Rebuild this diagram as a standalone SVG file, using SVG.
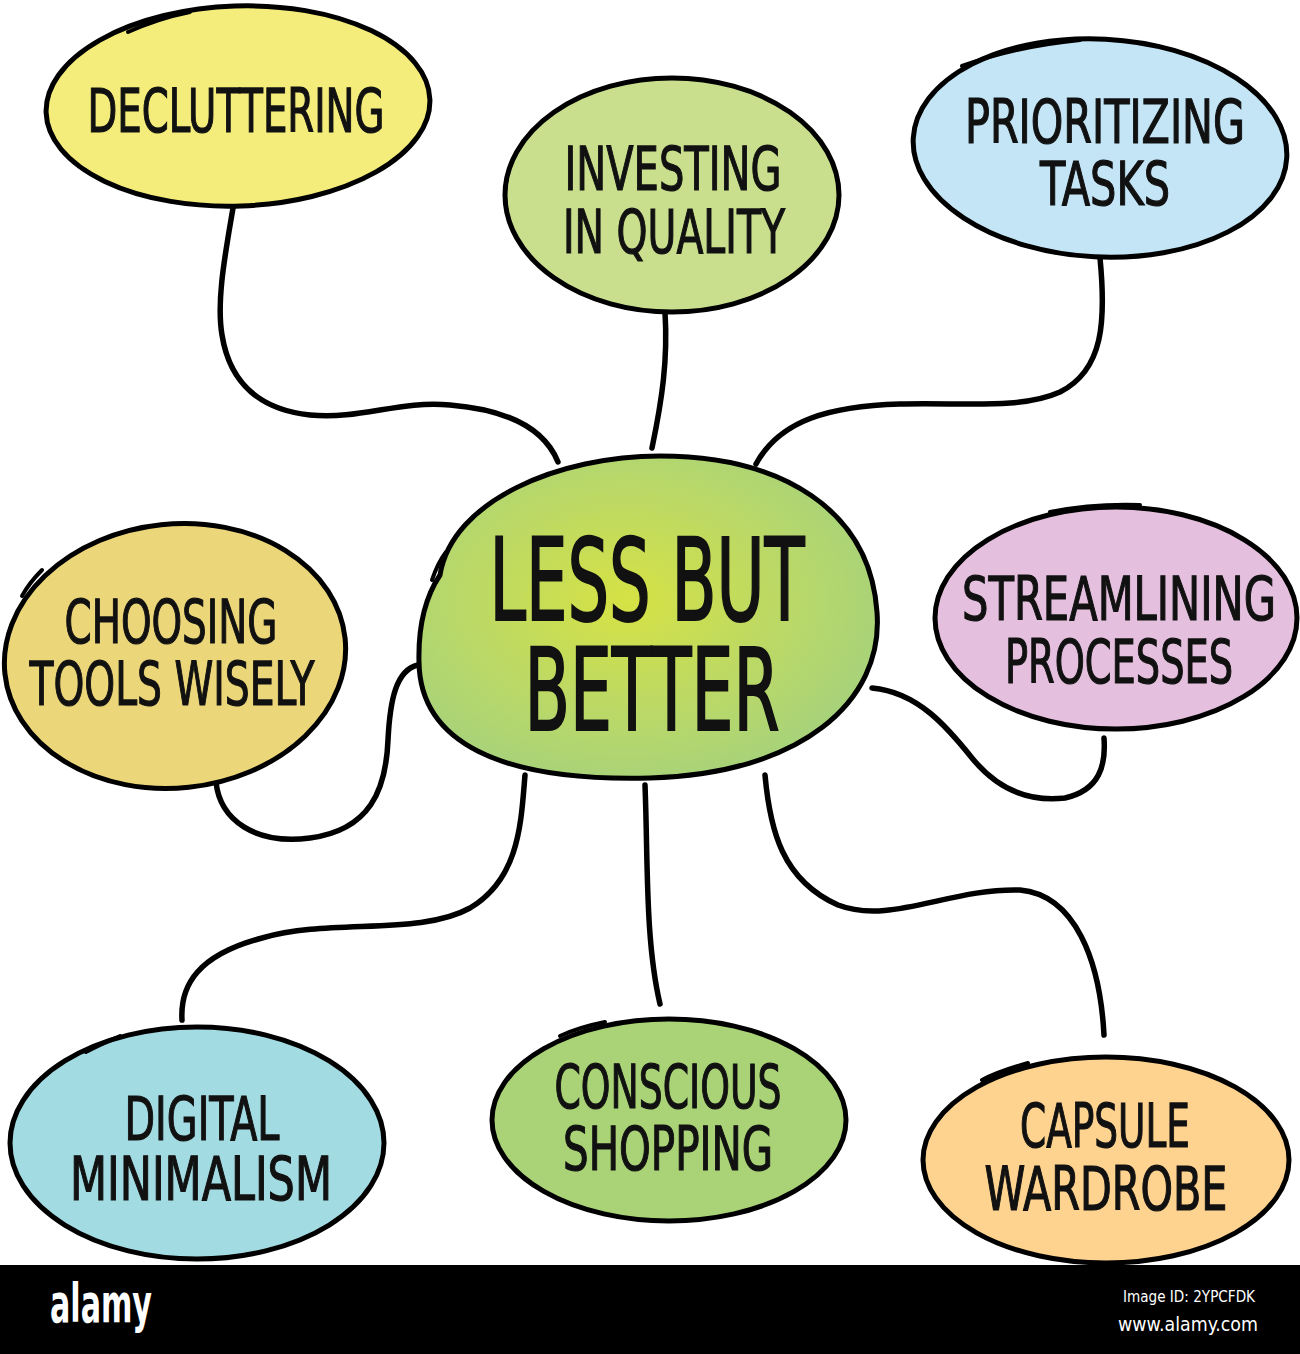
<svg xmlns="http://www.w3.org/2000/svg" width="1300" height="1354" viewBox="0 0 1300 1354">
<defs>
<radialGradient id="cg" cx="0.45" cy="0.45" r="0.6">
<stop offset="0" stop-color="#d6e244"/>
<stop offset="0.55" stop-color="#bcd965"/>
<stop offset="1" stop-color="#a6d27c"/>
</radialGradient>
<style>
.c{fill:none;stroke:#000;stroke-width:5.5;stroke-linecap:round;stroke-linejoin:round}
.o{stroke:#000;stroke-width:5}
.tk{fill:none;stroke:#000;stroke-width:4;stroke-linecap:round}
.t{font-family:"DejaVu Sans Condensed","Liberation Sans Narrow","DejaVu Sans",sans-serif;font-stretch:condensed;font-size:60px;fill:#111;stroke:#111;stroke-width:1.2;text-anchor:middle}
.big{font-size:114px;stroke-width:2}
.w{fill:#fff;font-family:"DejaVu Sans Condensed","DejaVu Sans",sans-serif;font-stretch:condensed}
</style>
</defs>
<rect width="1300" height="1354" fill="#fff"/>
<g id="connectors">
<path class="c" d="M233,208 C226,250 216,300 222,335 C230,385 262,410 310,415 C360,420 400,400 450,405 C510,410 545,430 558,462"/>
<path class="c" d="M665,312 C668,360 662,400 652,448"/>
<path class="c" d="M1100,258 C1106,320 1104,370 1060,392 C1020,410 960,402 900,404 C830,406 780,420 756,464"/>
<path class="c" d="M418,665 C396,670 390,700 388,740 C386,790 370,830 310,838 C255,845 220,820 216,782"/>
<path class="c" d="M872,688 C918,692 948,728 972,758 C998,790 1030,802 1065,798 C1100,790 1106,765 1104,738"/>
<path class="c" d="M525,775 C521,822 520,878 470,908 C420,936 330,918 262,938 C198,955 180,985 182,1020"/>
<path class="c" d="M645,785 C648,860 645,940 660,1004"/>
<path class="c" d="M765,775 C770,830 782,880 838,905 C890,925 950,888 1020,890 C1075,895 1100,960 1104,1035"/>
</g>
<g id="node-decluttering">
<ellipse class="o" cx="238" cy="106" rx="192" ry="100" transform="rotate(-2 238 106)" fill="#f4ed7b"/>
<path class="tk" d="M128,32 C150,22 170,16 190,12"/>
<text class="t" x="236" y="132" textLength="297" lengthAdjust="spacingAndGlyphs">DECLUTTERING</text>
</g>
<g id="node-investing">
<ellipse class="o" cx="672" cy="195" rx="167" ry="117" fill="#c9df8e"/>
<text class="t" x="673" y="190" textLength="217" lengthAdjust="spacingAndGlyphs">INVESTING</text>
<text class="t" x="674" y="253" textLength="222" lengthAdjust="spacingAndGlyphs">IN QUALITY</text>
</g>
<g id="node-prioritizing">
<ellipse class="o" cx="1100" cy="148" rx="187" ry="109" transform="rotate(3 1100 148)" fill="#c3e5f5"/>
<path class="tk" d="M962,66 C1000,52 1040,44 1080,40"/>
<text class="t" x="1105" y="143" textLength="280" lengthAdjust="spacingAndGlyphs">PRIORITIZING</text>
<text class="t" x="1105" y="205" textLength="130" lengthAdjust="spacingAndGlyphs">TASKS</text>
</g>
<g id="node-center">
<path class="o" fill="url(#cg)" stroke-width="7" d="M440,575 C452,500 560,456 660,456 C782,456 870,510 877,612 C884,702 800,774 650,778 C500,782 420,742 419,662 C418,622 426,596 440,575 Z"/>
<path class="tk" stroke-width="5" d="M432,580 C436,568 440,560 446,552"/>
<text class="t big" x="647" y="620" textLength="315" lengthAdjust="spacingAndGlyphs">LESS BUT</text>
<text class="t big" x="652" y="730" textLength="255" lengthAdjust="spacingAndGlyphs">BETTER</text>
</g>
<g id="node-choosing">
<ellipse class="o" cx="175" cy="656" rx="171" ry="132" transform="rotate(-6 175 656)" fill="#ecd67a"/>
<path class="tk" d="M22,596 C28,585 34,578 42,570"/>
<text class="t" x="171" y="643" textLength="213" lengthAdjust="spacingAndGlyphs">CHOOSING</text>
<text class="t" x="172" y="705" textLength="285" lengthAdjust="spacingAndGlyphs">TOOLS WISELY</text>
</g>
<g id="node-streamlining">
<ellipse class="o" cx="1116" cy="618" rx="181" ry="111" fill="#e4c0de"/>
<path class="tk" d="M1050,512 C1080,506 1110,504 1140,505"/>
<text class="t" x="1119" y="620" textLength="314" lengthAdjust="spacingAndGlyphs">STREAMLINING</text>
<text class="t" x="1119" y="683" textLength="228" lengthAdjust="spacingAndGlyphs">PROCESSES</text>
</g>
<g id="node-digital">
<ellipse class="o" cx="197" cy="1143" rx="187" ry="116" fill="#a2dbe2"/>
<path class="tk" d="M86,1052 C100,1045 110,1040 120,1036"/>
<text class="t" x="202" y="1140" textLength="155" lengthAdjust="spacingAndGlyphs">DIGITAL</text>
<text class="t" x="201" y="1200" textLength="262" lengthAdjust="spacingAndGlyphs">MINIMALISM</text>
</g>
<g id="node-conscious">
<ellipse class="o" cx="669" cy="1120" rx="177" ry="101" fill="#a9d376"/>
<path class="tk" d="M560,1036 C575,1029 590,1025 605,1022"/>
<text class="t" x="668" y="1108" textLength="227" lengthAdjust="spacingAndGlyphs">CONSCIOUS</text>
<text class="t" x="668" y="1170" textLength="210" lengthAdjust="spacingAndGlyphs">SHOPPING</text>
</g>
<g id="node-capsule">
<ellipse class="o" cx="1106" cy="1160" rx="183" ry="103" fill="#fed28f"/>
<path class="tk" d="M982,1080 C995,1073 1010,1068 1028,1063"/>
<text class="t" x="1105" y="1147" textLength="170" lengthAdjust="spacingAndGlyphs">CAPSULE</text>
<text class="t" x="1106" y="1210" textLength="243" lengthAdjust="spacingAndGlyphs">WARDROBE</text>
</g>
<g id="footer">
<rect x="0" y="1265" width="1300" height="89" fill="#000"/>
<text class="w" x="50" y="1322" font-size="54" font-weight="bold" textLength="102" lengthAdjust="spacingAndGlyphs">alamy</text>
<text class="w" x="1123" y="1302" font-size="16" textLength="132" lengthAdjust="spacingAndGlyphs">Image ID: 2YPCFDK</text>
<text class="w" x="1118" y="1331" font-size="20" textLength="140" lengthAdjust="spacingAndGlyphs">www.alamy.com</text>
</g>
</svg>
